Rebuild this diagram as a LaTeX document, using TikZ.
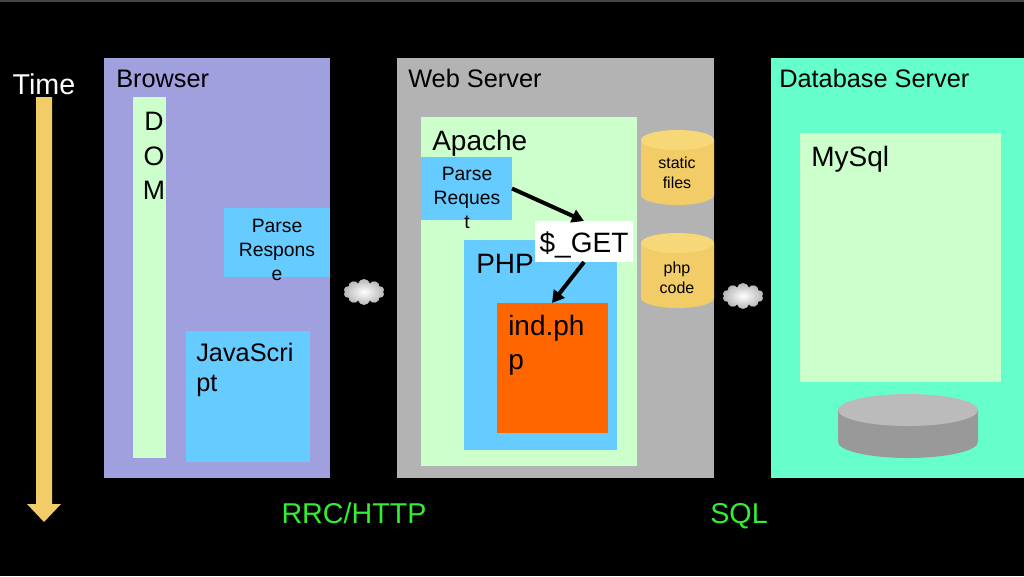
\documentclass[tikz,border=0pt]{standalone}
\usepackage{fontspec}
\setmainfont{Liberation Sans}
\usetikzlibrary{fit,shapes.symbols,arrows.meta}
\definecolor{lav}{RGB}{160,160,222}
\definecolor{pale}{RGB}{204,255,204}
\definecolor{sky}{RGB}{102,204,255}
\definecolor{srvgray}{RGB}{179,179,179}
\definecolor{orng}{RGB}{255,102,0}
\definecolor{mint}{RGB}{102,255,204}
\definecolor{gold}{RGB}{242,204,102}
\definecolor{goldtop}{RGB}{247,216,120}
\definecolor{disktop}{RGB}{187,187,187}
\definecolor{diskside}{RGB}{153,153,153}
\definecolor{lgreen}{RGB}{51,238,51}
\begin{document}
\begin{tikzpicture}[x=0.75pt,y=-0.75pt,
  region/.style={inner sep=0,outer sep=0,draw=none},
  title/.style={inner sep=0,anchor=base west,font=\fontsize{19}{23}\selectfont},
  big/.style={inner sep=0,font=\fontsize{21}{25.5}\selectfont},
  small/.style={inner sep=0,align=center,font=\fontsize{14.5}{18}\selectfont},
  tiny/.style={inner sep=0,align=center,font=\fontsize{12}{15}\selectfont},
  flow/.style={line width=3pt,-{Triangle[length=9pt,width=10pt]}},
  puff/.style={cloud,cloud puffs=10,minimum width=30pt,minimum height=19pt,inner sep=0,
    inner color=white,outer color=white!72!black,draw=white!80!black,line width=0.3pt}]
\fill[black] (0,0) rectangle (1024,576);
\useasboundingbox (0,0) rectangle (1024,576);
\fill[black!72] (0,0) rectangle (1024,1.5);

% Time
\node[inner sep=0,anchor=base,text=white,font=\fontsize{21.5}{26}\selectfont] (time) at (44,94) {Time};
\fill[gold] (36,97) -- (52,97) -- (52,504) -- (61,504) -- (44,522) -- (27,504) -- (36,504) -- cycle;

% Browser
\node[region,fill=lav,fit={(104,58)(330,478)}] (browser) {};
\node[title] (browserlbl) at (116,87) {Browser};
\node[region,fill=pale,fit={(133,97)(166,458)}] (dom) {};
\node[inner sep=0,anchor=north,align=center,font=\fontsize{20}{26}\selectfont] (domlbl) at (154,112) {D\\O\\M};
\node[region,fill=sky,fit={(224,208)(330,277)}] (parseresp) {};
\node[small,anchor=north] (parseresplbl) at (277,219) {Parse\\Respons\\e};
\node[region,fill=sky,fit={(186,331)(310,462)}] (js) {};
\node[inner sep=0,anchor=north west,align=left,font=\fontsize{19}{22.5}\selectfont] (jslbl) at (196,343) {JavaScri\\pt};

% clouds
\node[puff] (cloud1) at (364,292) {};
\node[puff] (cloud2) at (743,296) {};

% Web server
\node[region,fill=srvgray,fit={(397,58)(714,478)}] (web) {};
\node[title] (weblbl) at (408,87) {Web Server};
\node[region,fill=pale,fit={(421,117)(637,466)}] (apache) {};
\node[big,anchor=base west] (apachelbl) at (432,150) {Apache};
\node[region,fill=sky,fit={(421,157)(512,220)}] (parsereq) {};
\node[small,anchor=north] (parsereqlbl) at (467,167) {Parse\\Reques\\t};
\node[region,fill=sky,fit={(464,240)(617,450)}] (php) {};
\node[big,anchor=base west] (phplbl) at (476,273) {PHP};
\node[region,fill=white,fit={(535,221)(633,262)}] (get) {};
\node[big,anchor=base] (getlbl) at (584,252) {\$\_GET};
\node[region,fill=orng,fit={(497,303)(608,433)}] (indphp) {};
\node[big,anchor=north west,align=left] (indlbl) at (508,315) {ind.ph\\p};
\draw[flow] (parsereq.east) -- (get.north);
\draw[flow] (get.south) -- (552,303);

% cylinders
\fill[gold] (641,140) -- (641,195) arc[start angle=180,end angle=360,x radius=27.375pt,y radius=7.5pt] -- (714,140) -- cycle;
\fill[goldtop] (677.5,140) ellipse[x radius=27.375pt,y radius=7.5pt];
\node[tiny,anchor=north] (staticlbl) at (677,157) {static\\files};
\fill[gold] (641,243) -- (641,298) arc[start angle=180,end angle=360,x radius=27.375pt,y radius=7.5pt] -- (714,243) -- cycle;
\fill[goldtop] (677.5,243) ellipse[x radius=27.375pt,y radius=7.5pt];
\node[tiny,anchor=north] (phpcodelbl) at (677,262) {php\\code};

% Database server
\node[region,fill=mint,fit={(771,58)(1024,478)}] (db) {};
\node[title] (dblbl) at (779,87) {Database Server};
\node[region,fill=pale,fit={(800,133)(1001,382)}] (mysql) {};
\node[big,anchor=base west] (mysqllbl) at (811,166) {MySql};
\fill[diskside] (838,410) -- (838,442) arc[start angle=180,end angle=360,x radius=52.5pt,y radius=12pt] -- (978,410) -- cycle;
\fill[disktop] (908,410) ellipse[x radius=52.5pt,y radius=12pt];

% bottom labels
\node[inner sep=0,anchor=base,text=lgreen,font=\fontsize{21.5}{26}\selectfont] (http) at (354,523) {RRC/HTTP};
\node[inner sep=0,anchor=base,text=lgreen,font=\fontsize{21.5}{26}\selectfont] (sql) at (739,523) {SQL};
\end{tikzpicture}
\end{document}
